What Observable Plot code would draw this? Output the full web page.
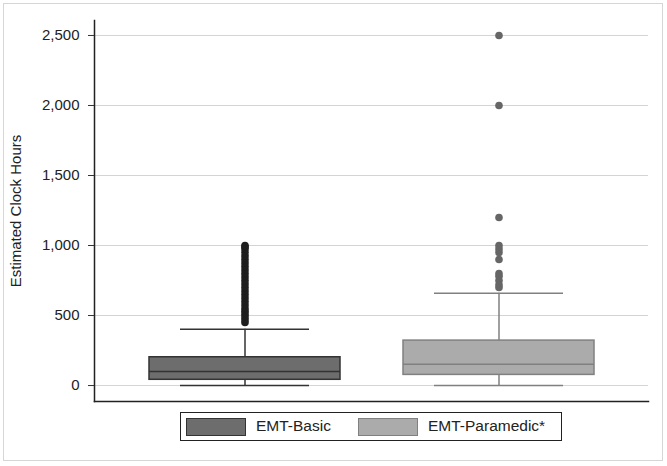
<!DOCTYPE html>
<html>
<head>
<meta charset="utf-8">
<script src="https://cdn.jsdelivr.net/npm/d3@7"></script>
<script src="https://cdn.jsdelivr.net/npm/@observablehq/plot@0.6"></script>
<style>
  html, body { margin: 0; padding: 0; background: #fff; }
  #wrap { position: relative; width: 667px; height: 466px; font-family: "Liberation Sans", Arial, sans-serif; }
  #border { position: absolute; left: 3px; top: 3px; width: 658px; height: 456px; border: 1px solid #d6d6d6; }
  #chart { position: absolute; left: 0; top: 0; }
  #legend { position: absolute; left: 180px; top: 412px; width: 380px; height: 27px; border: 1px solid #222; box-sizing: content-box; }
  .sw { position: absolute; top: 5px; width: 58px; height: 16px; }
  .lt { position: absolute; top: 4px; font-size: 15.5px; color: #222; line-height: 18px; }
</style>
</head>
<body>
<div id="wrap">
  <div id="border"></div>
  <div id="chart"></div>
  <div id="legend"></div>
</div>
<script>
const groups = ["EMT-Basic", "EMT-Paramedic*"];
const whiskerLow = [0, 0];
const q1 = [41, 76];
const median = [100, 152];
const q3 = [202, 321];
const whiskerHigh = [402, 659];
const basicOutliers = [450, 470, 490, 510, 530, 550, 575, 600, 625, 650, 675, 700, 725, 750, 775, 800, 825, 850, 875, 900, 925, 950, 975, 990, 1000];
const paramedicOutliers = [700, 720, 750, 780, 800, 900, 950, 975, 1000, 1200, 2000, 2500];
const yTicks = [0, 500, 1000, 1500, 2000, 2500];
const boxFill = ["#6d6d6d", "#ababab"];
const boxStroke = ["#333333", "#808080"];
const outlierFill = ["#1e1e1e", "#666666"];

const stats = groups.map((g, i) => ({
  group: g, lo: whiskerLow[i], q1: q1[i], med: median[i], q3: q3[i], hi: whiskerHigh[i],
  fill: boxFill[i], stroke: boxStroke[i]
}));
const outliers = [
  ...basicOutliers.map(v => ({group: groups[0], value: v, fill: outlierFill[0]})),
  ...paramedicOutliers.map(v => ({group: groups[1], value: v, fill: outlierFill[1]}))
];

const chart = Plot.plot({
  width: 667,
  height: 404,
  marginTop: 20,
  marginBottom: 3,
  marginLeft: 94,
  marginRight: 19,
  style: {fontFamily: "Liberation Sans, Arial, sans-serif", fontSize: "15px", color: "#333", background: "transparent"},
  x: {type: "band", domain: groups, paddingInner: 0.25, paddingOuter: 0.214, axis: null},
  y: {domain: [-114, 2607]},
  marks: [
    Plot.gridY(yTicks, {stroke: "#d4d4d4", strokeOpacity: 1}),
    Plot.ruleX(stats, {x: "group", y1: "lo", y2: "q1", stroke: "stroke", strokeWidth: 1.5}),
    Plot.ruleX(stats, {x: "group", y1: "q3", y2: "hi", stroke: "stroke", strokeWidth: 1.5}),
    Plot.tickY(stats, {x: "group", y: "lo", stroke: "stroke", strokeWidth: 1.5, inset: 31}),
    Plot.tickY(stats, {x: "group", y: "hi", stroke: "stroke", strokeWidth: 1.5, inset: 31}),
    Plot.barY(stats, {x: "group", y1: "q1", y2: "q3", fill: "fill", stroke: "stroke", strokeWidth: 1.5}),
    Plot.tickY(stats, {x: "group", y: "med", stroke: "stroke", strokeWidth: 1.5}),
    Plot.dot(outliers, {x: "group", y: "value", r: 3.8, fill: "fill", stroke: null}),
    Plot.frame({anchor: "left", stroke: "#222", strokeWidth: 1.5}),
    Plot.frame({anchor: "bottom", stroke: "#222", strokeWidth: 1.5}),
    Plot.axisY(yTicks, {tickSize: 6, tickPadding: 9, stroke: "#333", fill: "#222", fontSize: 15,
      label: "Estimated Clock Hours", labelAnchor: "center", labelArrow: "none", labelOffset: 84})
  ]
});
document.getElementById("chart").appendChild(chart);

const legend = document.getElementById("legend");
const legendX = [[5, 75], [177, 247]];
groups.forEach((g, i) => {
  const sw = document.createElement("div");
  sw.className = "sw";
  sw.style.left = legendX[i][0] + "px";
  sw.style.background = boxFill[i];
  sw.style.border = "1px solid " + boxStroke[i];
  legend.appendChild(sw);
  const t = document.createElement("div");
  t.className = "lt";
  t.style.left = legendX[i][1] + "px";
  t.textContent = g;
  legend.appendChild(t);
});
</script>
</body>
</html>
